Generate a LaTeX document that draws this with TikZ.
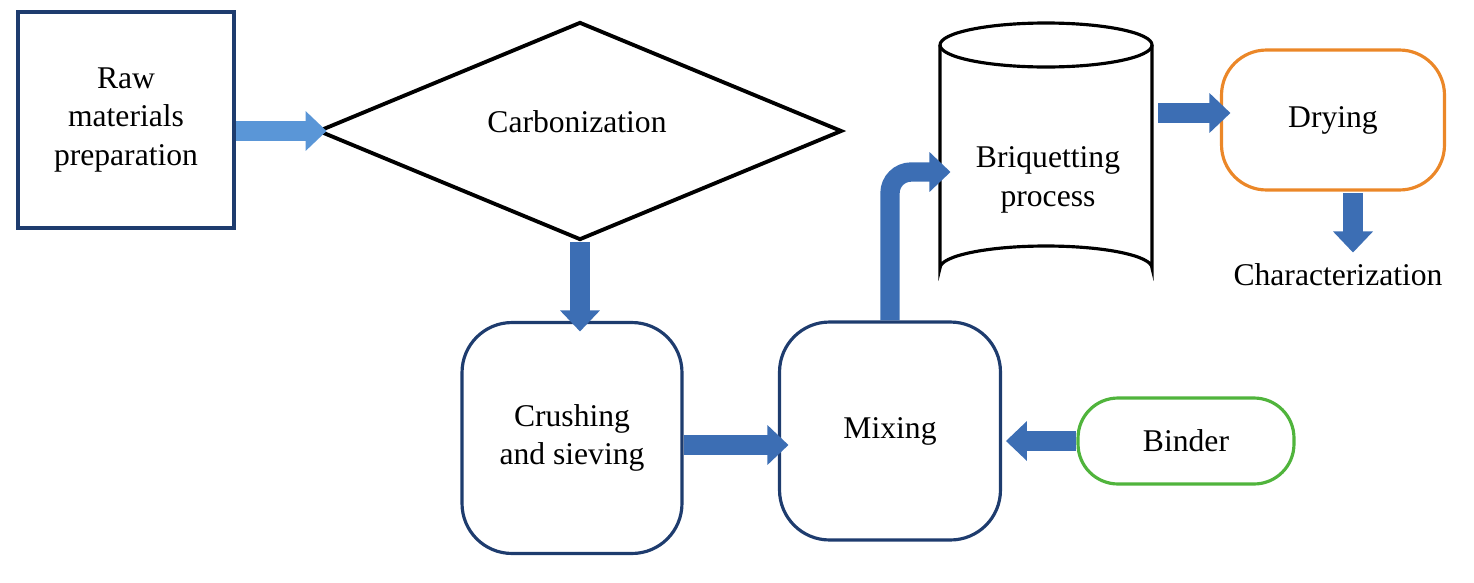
\documentclass[tikz,border=0pt]{standalone}
\usepackage{fontspec}
\setmainfont{Liberation Serif}
\usetikzlibrary{shapes.geometric,arrows.meta,positioning}
\definecolor{boxblue}{RGB}{30,60,110}
\definecolor{arrowblue}{RGB}{60,110,180}
\definecolor{arrowlight}{RGB}{90,150,215}
\definecolor{dryorange}{RGB}{235,135,40}
\definecolor{bindgreen}{RGB}{80,180,60}
\tikzset{
  procbox/.style={draw=boxblue, line width=1.8pt, rounded corners=1cm, align=center,
    inner sep=0pt, font=\fontsize{18}{22}\selectfont},
  flow/.style={draw=arrowblue, line width=11pt,
    -{Triangle[length=12pt,width=22pt]}, shorten >=-6pt},
}
\begin{document}
\begin{tikzpicture}[x=0.02cm,y=-0.02cm]
\useasboundingbox (0,0) rectangle (1474,582);

% Raw materials
\node[procbox, rounded corners=0pt, line width=2.3pt, minimum width=4.32cm, minimum height=4.32cm]
  (raw) at (126,120) {Raw\\materials\\preparation};

% Carbonization
\node[draw, line width=2.2pt, diamond, minimum width=10.48cm, minimum height=4.36cm,
  inner sep=0pt] (carb) at (580,131) {};
\node[font=\fontsize{18}{22}\selectfont] (carbtext) at (577,122) {Carbonization};

% Crushing and mixing
\node[procbox, minimum width=4.4cm, minimum height=4.62cm] (crush) at (572,438) {Crushing\\and sieving};
\node[procbox, minimum width=4.42cm, minimum height=4.36cm] (mix) at (890,431) {Mixing};
\node[procbox, draw=bindgreen, rounded corners=0.8cm, minimum width=4.32cm, minimum height=1.72cm]
  (binder) at (1186,441) {Binder};

% Briquetting cylinder
\draw[line width=1.8pt] (940,45) -- (940,268) arc[start angle=180,end angle=360,x radius=106,y radius=22]
  -- (1152,45);
\draw[line width=1.8pt] (1046,45) ellipse[x radius=106,y radius=22];
\node[align=center, font=\fontsize{18}{22}\selectfont] (briq) at (1048,180) {Briquetting\\process};
\coordinate (briqin) at (940,172);
\coordinate (briqout) at (1158,113);

% Drying
\node[procbox, draw=dryorange, rounded corners=0.9cm, minimum width=4.46cm, minimum height=2.8cm]
  (dry) at (1333,120) {Drying};
\coordinate (dryout) at (1353,193);
\node[font=\fontsize{18}{22}\selectfont] (charact) at (1338,275) {Characterization};

% Arrows
\draw[flow, draw=arrowlight] (raw.east |- carb.west) -- (carb.west);
\draw[flow] (carb.south) -- (carb.south |- crush.north);
\draw[flow] (crush.east) ++(0,7) coordinate (c1) -- (c1 -| mix.west);
\draw[flow] (binder.west) -- ++(-60,0);
\draw[flow, rounded corners=12pt] (mix.north) -- (mix.north |- briqin) -- (briqin);
\draw[flow] (briqout) -- (briqout -| dry.west);
\draw[flow] (dryout) -- ++(0,49);
\end{tikzpicture}
\end{document}
